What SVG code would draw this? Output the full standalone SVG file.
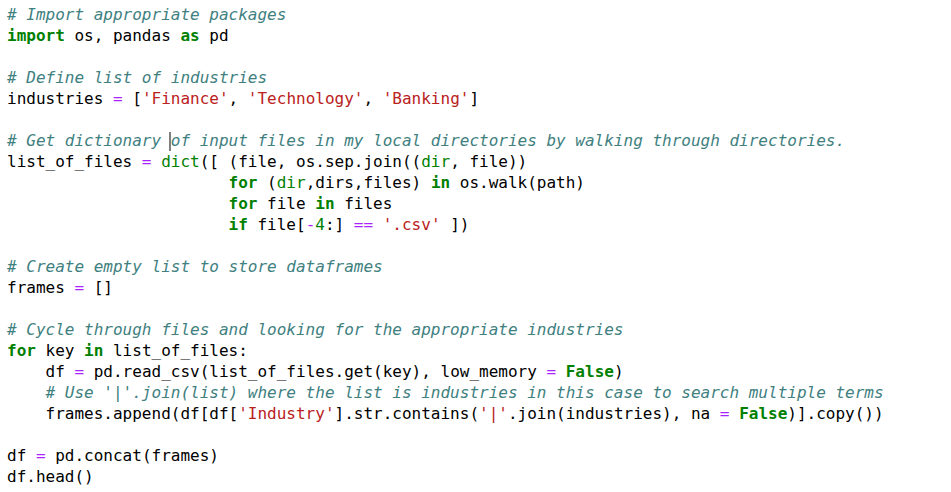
<svg xmlns="http://www.w3.org/2000/svg" width="951" height="492" viewBox="0 0 951 492">
<style>
text{font-family:"DejaVu Sans Mono","Liberation Mono",monospace;font-size:16px;fill:#000;white-space:pre}
.c{fill:#408080;font-style:italic}
.k{fill:#008000;font-weight:bold}
.b{fill:#008000}
.o{fill:#AA22FF}
.s{fill:#BA2121}
.n{fill:#008000}
</style>
<rect width="951" height="492" fill="#fff"/>
<g id="code" xml:space="preserve">
<text x="7" y="20" class="c"># Import appropriate packages</text>
<text x="7" y="41"><tspan class="k">import</tspan> os, pandas <tspan class="k">as</tspan> pd</text>
<text x="7" y="83" class="c"># Define list of industries</text>
<text x="7" y="104">industries <tspan class="o">=</tspan> [<tspan class="s">'Finance'</tspan>, <tspan class="s">'Technology'</tspan>, <tspan class="s">'Banking'</tspan>]</text>
<text x="7" y="146" class="c"># Get dictionary of input files in my local directories by walking through directories.</text>
<text x="7" y="167">list_of_files <tspan class="o">=</tspan> <tspan class="b">dict</tspan>([ (file, os.sep.join((<tspan class="b">dir</tspan>, file))</text>
<text x="7" y="188">                       <tspan class="k">for</tspan> (<tspan class="b">dir</tspan>,dirs,files) <tspan class="k">in</tspan> os.walk(path)</text>
<text x="7" y="209">                       <tspan class="k">for</tspan> file <tspan class="k">in</tspan> files</text>
<text x="7" y="230">                       <tspan class="k">if</tspan> file[<tspan class="o">-</tspan><tspan class="n">4</tspan>:] <tspan class="o">==</tspan> <tspan class="s">'.csv'</tspan> ])</text>
<text x="7" y="272" class="c"># Create empty list to store dataframes</text>
<text x="7" y="293">frames <tspan class="o">=</tspan> []</text>
<text x="7" y="335" class="c"># Cycle through files and looking for the appropriate industries</text>
<text x="7" y="356"><tspan class="k">for</tspan> key <tspan class="k">in</tspan> list_of_files:</text>
<text x="7" y="377">    df <tspan class="o">=</tspan> pd.read_csv(list_of_files.get(key), low_memory <tspan class="o">=</tspan> <tspan class="k">False</tspan>)</text>
<text x="7" y="398">    <tspan class="c"># Use '|'.join(list) where the list is industries in this case to search multiple terms</tspan></text>
<text x="7" y="419">    frames.append(df[df[<tspan class="s">'Industry'</tspan>].str.contains(<tspan class="s">'|'</tspan>.join(industries), na <tspan class="o">=</tspan> <tspan class="k">False</tspan>)].copy())</text>
<text x="7" y="461">df <tspan class="o">=</tspan> pd.concat(frames)</text>
<text x="7" y="482">df.head()</text>
</g>
<line x1="170" y1="132" x2="170" y2="151" stroke="#000" stroke-width="1"/>
</svg>
